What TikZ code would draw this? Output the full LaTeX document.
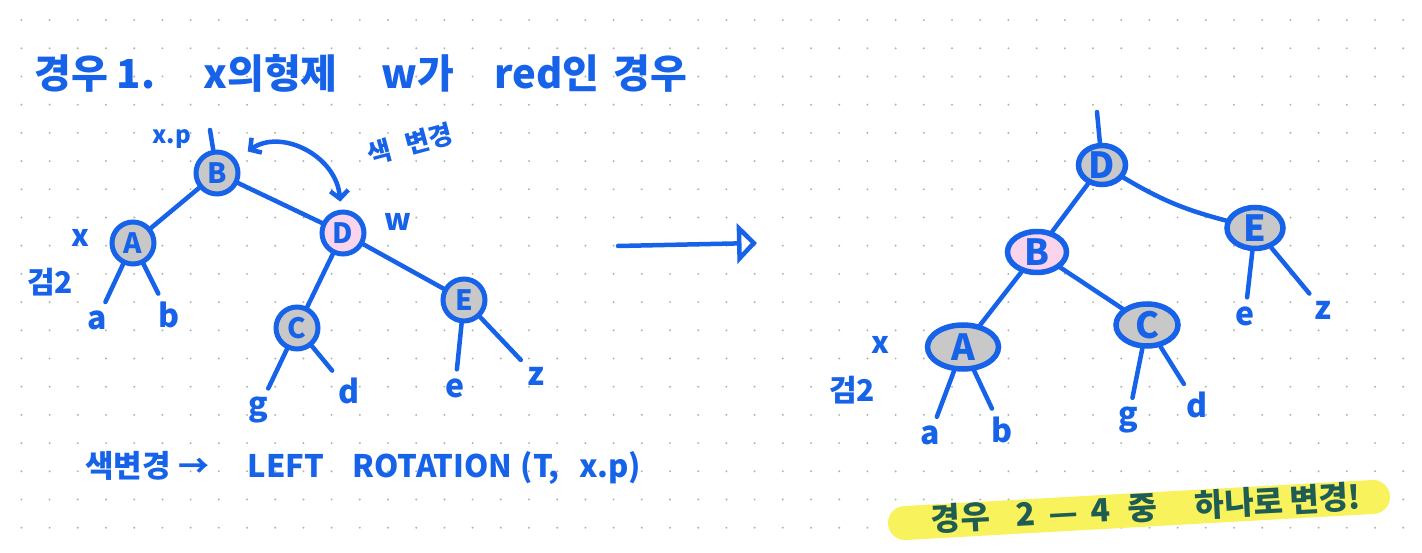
\documentclass[tikz,border=0pt]{standalone}
\usepackage{fontspec}
\setmainfont{Noto Sans CJK KR}
\usepackage{tikz}
\usetikzlibrary{shapes.geometric}
\usetikzlibrary{arrows.meta}
\usepackage{xcolor}
\definecolor{ink}{RGB}{22,98,232}
\definecolor{lead}{RGB}{200,200,200}
\definecolor{rose}{RGB}{250,212,236}
\definecolor{marker}{RGB}{248,242,92}
\definecolor{inkdark}{RGB}{30,92,84}
\definecolor{griddot}{RGB}{178,178,178}
\newcommand{\penfont}[1]{\fontsize{#1}{#1}\selectfont\bfseries}

\begin{document}
\begin{tikzpicture}[x=1pt,y=1pt,
  >={Straight Barb[length=8pt,width=18pt]},
  pen/.style={draw=ink,line width=4.5pt,line cap=round},
  blk/.style={circle,draw=ink,line width=5pt,fill=lead,minimum size=42pt,inner sep=0pt,text=ink,font=\penfont{28}},
  redn/.style={blk,fill=rose},
  bigblk/.style={ellipse,draw=ink,line width=5.5pt,fill=lead,inner sep=0pt,text=ink,font=\penfont{36}},
  bigred/.style={bigblk,fill=rose},
  hand/.style={text=ink,inner sep=1pt},
  leaf/.style={pen,shorten >=8pt}]

\useasboundingbox (0,0) rectangle (1422,552);
\foreach \i in {0,...,49}
  \foreach \j in {0,...,18}
    \fill[griddot] (21.4+28.2*\i,531.9-28.2*\j) circle (1.1pt);

\node[hand,anchor=west,font=\penfont{40}] (title) at (33,479) {경우 1.\hspace{48pt}x의형제\hspace{44pt}w가\hspace{40pt}red인\hspace{14pt}경우};

\coordinate (top1) at (210,422);
\node[blk] (B1) at (217,379) {B};
\node[blk] (A1) at (133,309) {A};
\node[redn] (D1) at (343,319) {D};
\node[blk] (C1) at (297,224) {C};
\node[blk] (E1) at (464,252) {E};
\node[hand,font=\penfont{24}] (xp1) at (172,413) {x.p};
\node[hand,font=\penfont{30}] (x1) at (80,314) {x};
\node[hand,font=\penfont{30}] (k1) at (50,270) {검2};
\node[hand,font=\penfont{30}] (w1) at (398,330) {w};
\node[hand,font=\penfont{26},rotate=15] (chg1) at (410,408) {색\hspace{16pt}변경};
\node[hand,font=\penfont{32}] (ta1) at (97,232) {a};
\node[hand,font=\penfont{32}] (tb1) at (169,237) {b};
\node[hand,font=\penfont{32}] (tg1) at (258,142) {g};
\node[hand,font=\penfont{32}] (td1) at (349,161) {d};
\node[hand,font=\penfont{32}] (te1) at (455,164) {e};
\node[hand,font=\penfont{32}] (tz1) at (536,176) {z};

\draw[pen] (top1) -- (B1);
\draw[pen] (B1) -- (A1);
\draw[pen] (B1) -- (D1);
\draw[pen] (D1) -- (C1);
\draw[pen] (D1) -- (E1);
\foreach \p/\q in {A1/ta1,A1/tb1,C1/tg1,C1/td1,E1/te1,E1/tz1}
  \draw[leaf] (\p) -- (\q);
\draw[pen,<->,shorten <=14pt,shorten >=8pt] (B1) to[out=35,in=95,looseness=1.2] (D1);

\node[hand,anchor=west,font=\penfont{31}] (rot) at (84,84) {색변경\hspace{8pt}→\hspace{38pt}LEFT\hspace{28pt}ROTATION\hspace{8pt}(T,\hspace{20pt}x.p)};

\coordinate (s) at (618,306);
\coordinate (t) at (757,309);
\draw[pen,-{Triangle[open,length=20pt,width=40pt]}] (s) -- (t);

\coordinate (top2) at (1097,440);
\node[bigblk,minimum width=47pt,minimum height=39pt] (D2) at (1102,387) {D};
\node[bigred,minimum width=59pt,minimum height=41pt] (B2) at (1037,300) {B};
\node[bigblk,minimum width=56pt,minimum height=41pt] (E2) at (1255,324) {E};
\node[bigblk,minimum width=71pt,minimum height=44pt] (A2) at (963,205) {A};
\node[bigblk,minimum width=62pt,minimum height=42pt] (C2) at (1147,227) {C};
\node[hand,font=\penfont{30}] (x2) at (880,207) {x};
\node[hand,font=\penfont{30}] (k2) at (852,162) {검2};
\node[hand,font=\penfont{32}] (ta2) at (930,117) {a};
\node[hand,font=\penfont{32}] (tb2) at (1002,122) {b};
\node[hand,font=\penfont{32}] (tg2) at (1128,132) {g};
\node[hand,font=\penfont{32}] (td2) at (1197,147) {d};
\node[hand,font=\penfont{32}] (te2) at (1245,236) {e};
\node[hand,font=\penfont{32}] (tz2) at (1323,242) {z};

\draw[pen] (top2) -- (D2);
\draw[pen] (D2) -- (B2);
\draw[pen] (D2) to[bend right=8] (E2);
\draw[pen] (B2) -- (A2);
\draw[pen] (B2) -- (C2);
\foreach \p/\q in {A2/ta2,A2/tb2,C2/tg2,C2/td2,E2/te2,E2/tz2}
  \draw[leaf] (\p) -- (\q);

\coordinate (h1) at (905,29);
\coordinate (h2) at (1373,55);
\draw[marker,line width=34pt,line cap=round] (h1) -- (h2);
\node[text=inkdark,font=\penfont{32},rotate=3] (res) at (1146,44) {경우\hspace{26pt}2\hspace{14pt}—\hspace{12pt}4\hspace{18pt}중\hspace{38pt}하나로\hspace{6pt}변경!};
\end{tikzpicture}
\end{document}
